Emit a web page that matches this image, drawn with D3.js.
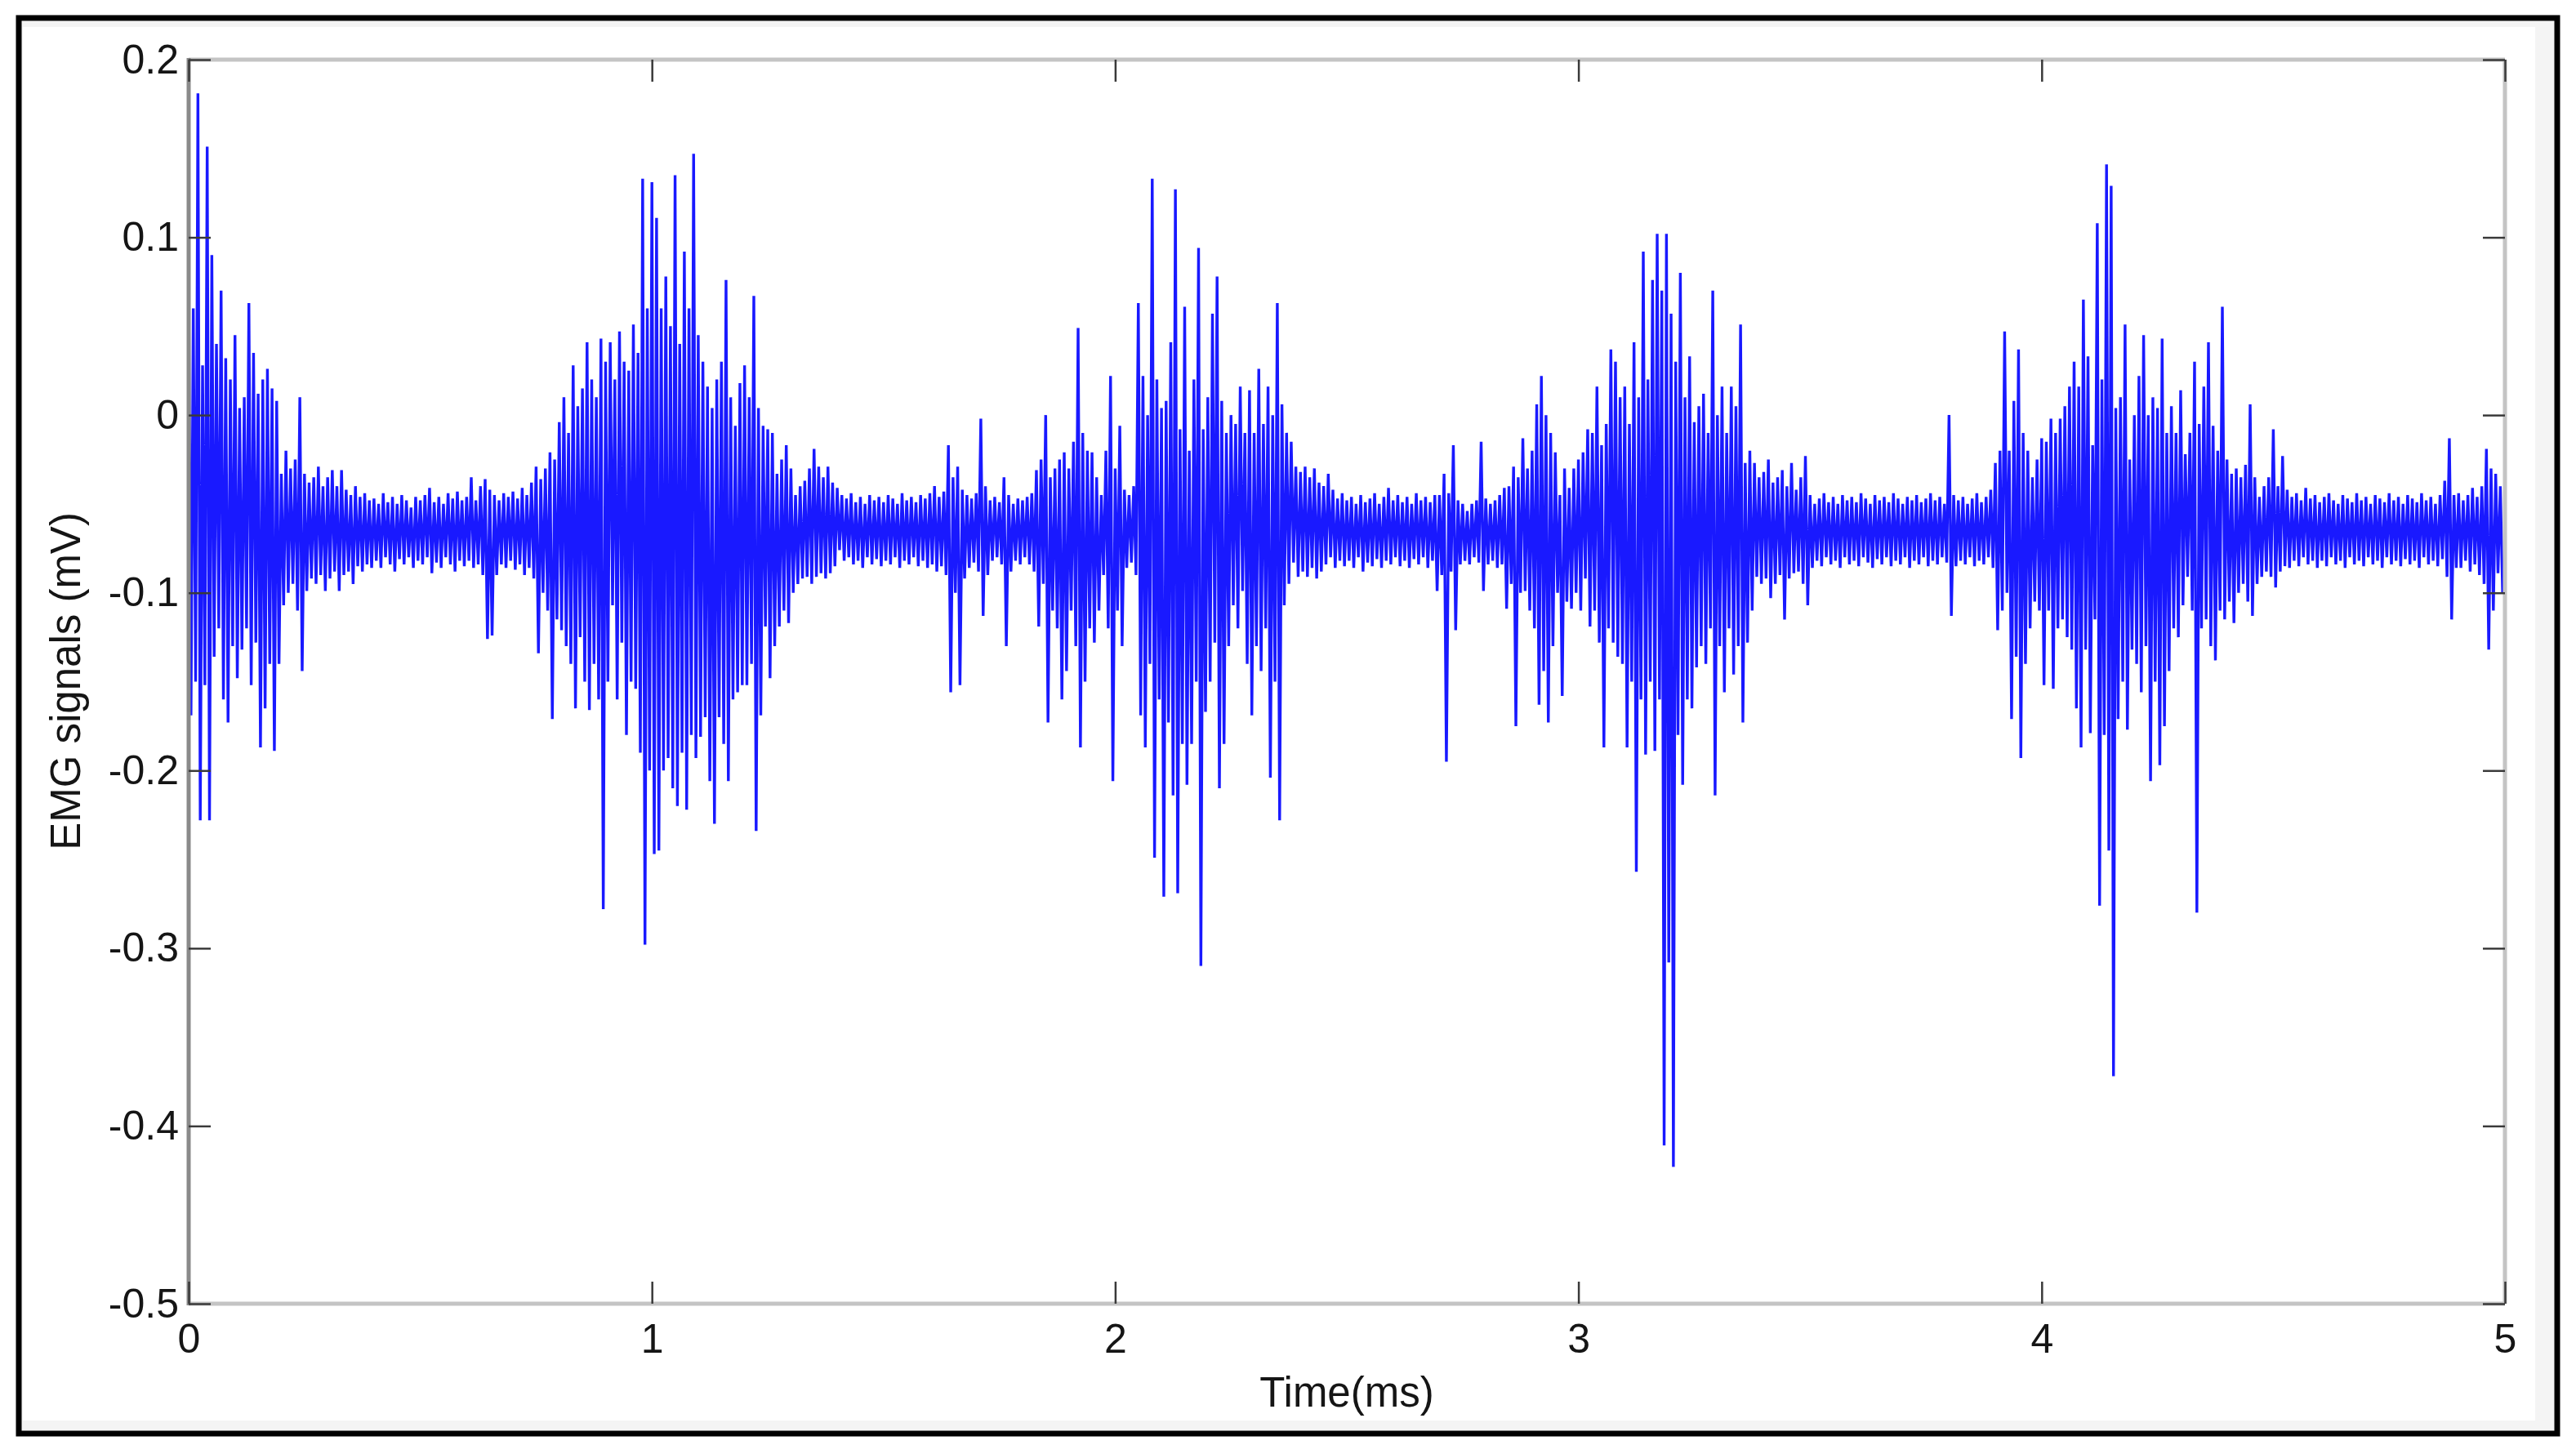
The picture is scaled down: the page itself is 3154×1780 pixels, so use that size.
<!DOCTYPE html>
<html>
<head>
<meta charset="utf-8">
<script src="https://cdn.jsdelivr.net/npm/d3@7"></script>
<style>
  html, body { margin: 0; padding: 0; background: #fff; }
  svg { display: block; }
  .tick text { font-family: "Liberation Sans", Arial, sans-serif; fill: #151515; }
</style>
</head>
<body>
<div id="chart"></div>
<script>
// EMG trace, one bin every 0.01 ms: upper and lower swing of the signal in each bin (µV)
var binStep = 0.01;
var binHi = [
  74, 60, 181, 28, 151, 90, 40, 70, 32, 20,
  45, 4, 10, 63, 35, 12, 20, 26, 15, 8,
  -33, -20, -30, -25, 10, -33, -38, -35, -29, -40,
  -35, -31, -40, -31, -42, -45, -40, -46, -44, -48,
  -47, -50, -44, -49, -46, -50, -45, -48, -52, -46,
  -48, -45, -41, -49, -46, -50, -44, -47, -43, -48,
  -46, -35, -48, -40, -36, -42, -45, -48, -44, -46,
  -43, -47, -41, -45, -38, -29, -36, -30, -21, -25,
  -4, 10, -10, 28, 5, 15, 41, 20, 10, 43,
  30, 41, 20, 47, 30, 25, 51, 35, 133, 60,
  131, 111, 60, 78, 50, 135, 40, 92, 60, 147,
  45, 30, 16, 4, 20, 30, 76, 10, -6, 18,
  28, 10, 67, 4, -6, -8, -10, -33, -25, -17,
  -30, -45, -40, -37, -30, -19, -29, -35, -29, -38,
  -41, -45, -47, -44, -49, -46, -50, -45, -48, -46,
  -49, -45, -47, -50, -44, -48, -46, -49, -45, -47,
  -44, -40, -46, -43, -17, -35, -29, -42, -45, -47,
  -44, -2, -40, -48, -46, -49, -35, -45, -50, -47,
  -48, -46, -44, -31, -25, 0, -35, -30, -25, -21,
  -30, -15, 49, -10, -20, -21, -35, -45, -20, 22,
  -30, -6, -42, -45, -40, 63, 22, 0, 133, 20,
  4, 8, 41, 127, -8, 61, -20, 20, 94, -8,
  10, 57, 78, 8, -10, 0, -5, 16, -10, 14,
  -10, 26, -5, 16, 0, 63, 6, -10, -15, -29,
  -32, -29, -35, -30, -38, -40, -33, -42, -47, -44,
  -48, -46, -50, -45, -49, -47, -44, -50, -46, -41,
  -48, -45, -49, -46, -50, -44, -48, -46, -49, -45,
  -45, -33, -44, -17, -48, -50, -54, -50, -48, -15,
  -47, -50, -48, -45, -41, -40, -29, -35, -13, -30,
  -20, 6, 22, 0, -10, -21, -45, -30, -41, -30,
  -25, -21, -8, -10, 16, -17, -5, 37, 30, 10,
  16, -5, 41, 10, 92, 20, 76, 102, 70, 102,
  57, 30, 80, 10, 33, -4, 5, 12, -10, 70,
  0, 16, -10, 16, 5, 51, -27, -20, -27, -35,
  -32, -25, -38, -35, -31, -40, -27, -42, -35, -23,
  -45, -50, -47, -44, -49, -46, -50, -45, -48, -46,
  -49, -44, -47, -50, -45, -48, -46, -49, -44, -47,
  -50, -46, -48, -45, -49, -47, -44, -48, -46, -50,
  0, -45, -48, -46, -50, -47, -44, -49, -46, -42,
  -27, -20, 47, -20, 8, 37, -10, -20, -35, -25,
  -13, -15, -2, -10, -2, 5, 16, 30, 16, 65,
  33, -17, 108, 20, 141, 129, 4, 10, 51, -25,
  0, 22, 45, 0, 10, 4, 43, -10, 5, -10,
  14, -22, -10, 30, -5, 16, 41, -6, -20, 61,
  -25, -33, -30, -35, -28, 6, -35, -46, -40, -35,
  -8, -40, -23, -42, -46, -44, -48, -41, -47, -45,
  -49, -46, -44, -48, -50, -45, -47, -49, -44, -48,
  -46, -50, -45, -47, -49, -44, -48, -46, -50, -45,
  -47, -49, -44, -48, -46, -50, -45, -37, -13, -45,
  -44, -48, -45, -41, -46, -40, -19, -30, -33, -40
];
var binLo = [
  -169, -150, -228, -152, -228, -136, -120, -160, -173, -130,
  -148, -132, -120, -152, -128, -187, -165, -140, -189, -140,
  -107, -100, -95, -110, -144, -99, -92, -95, -90, -99,
  -92, -88, -99, -90, -88, -95, -85, -88, -84, -86,
  -82, -86, -80, -84, -88, -81, -84, -80, -86, -82,
  -84, -80, -89, -83, -86, -80, -84, -88, -82, -85,
  -82, -86, -84, -90, -126, -124, -90, -84, -86, -82,
  -87, -84, -90, -86, -92, -134, -100, -110, -171, -115,
  -121, -130, -140, -165, -125, -150, -166, -140, -160, -278,
  -150, -107, -160, -128, -180, -150, -154, -190, -298, -200,
  -247, -245, -200, -193, -210, -220, -190, -222, -180, -193,
  -181, -170, -206, -230, -170, -185, -206, -160, -156, -152,
  -152, -140, -234, -169, -119, -148, -130, -119, -110, -117,
  -100, -95, -92, -91, -95, -91, -89, -92, -89, -85,
  -76, -82, -80, -84, -82, -86, -80, -84, -81, -85,
  -82, -84, -80, -86, -82, -84, -80, -85, -82, -86,
  -84, -88, -85, -90, -156, -100, -152, -92, -86, -83,
  -88, -113, -90, -82, -80, -84, -130, -88, -82, -84,
  -80, -84, -88, -119, -95, -173, -110, -120, -160, -144,
  -110, -130, -187, -150, -120, -128, -110, -90, -120, -206,
  -110, -130, -86, -83, -90, -169, -187, -140, -249, -160,
  -271, -173, -214, -269, -185, -208, -185, -150, -310, -167,
  -150, -128, -210, -185, -130, -107, -120, -99, -140, -169,
  -130, -144, -120, -204, -150, -228, -107, -95, -83, -91,
  -88, -91, -86, -92, -88, -84, -80, -86, -82, -85,
  -82, -86, -80, -88, -83, -85, -81, -86, -82, -84,
  -80, -85, -82, -86, -81, -84, -80, -86, -82, -99,
  -90, -195, -88, -121, -84, -82, -84, -80, -83, -99,
  -84, -82, -86, -84, -109, -95, -175, -100, -99, -110,
  -120, -163, -144, -173, -130, -100, -158, -105, -109, -100,
  -110, -92, -119, -110, -128, -187, -120, -128, -136, -140,
  -187, -150, -257, -160, -191, -150, -189, -160, -411, -308,
  -423, -180, -208, -160, -165, -142, -130, -140, -120, -214,
  -130, -156, -120, -146, -130, -173, -128, -110, -91, -95,
  -92, -103, -95, -90, -115, -92, -89, -88, -95, -107,
  -86, -82, -85, -80, -84, -82, -86, -80, -84, -82,
  -85, -80, -83, -86, -81, -84, -80, -85, -82, -84,
  -80, -86, -82, -84, -80, -85, -82, -84, -80, -83,
  -113, -85, -82, -84, -80, -85, -82, -84, -80, -86,
  -121, -110, -100, -171, -136, -193, -140, -120, -105, -110,
  -152, -110, -154, -120, -115, -125, -132, -165, -187, -132,
  -179, -115, -276, -180, -245, -372, -171, -150, -177, -132,
  -140, -156, -130, -206, -150, -197, -175, -144, -120, -125,
  -107, -91, -110, -280, -120, -115, -130, -138, -110, -115,
  -105, -117, -100, -95, -105, -113, -95, -91, -88, -91,
  -97, -88, -85, -86, -82, -85, -80, -84, -82, -86,
  -82, -85, -80, -84, -82, -86, -80, -84, -82, -85,
  -80, -84, -82, -86, -80, -84, -82, -85, -81, -84,
  -82, -86, -80, -84, -82, -85, -81, -91, -115, -86,
  -86, -82, -88, -84, -90, -95, -132, -110, -89, -100
];

var xTicks = [0, 1, 2, 3, 4, 5];
var xTickLabels = ["0", "1", "2", "3", "4", "5"];
var yTicks = [0.2, 0.1, 0, -0.1, -0.2, -0.3, -0.4, -0.5];
var yTickLabels = ["0.2", "0.1", "0", "-0.1", "-0.2", "-0.3", "-0.4", "-0.5"];

var width = 3154,
    height = 1780;
var plotLeft = 231, plotRight = 3067, plotTop = 73, plotBottom = 1596;

var svg = d3.select("#chart").append("svg")
    .attr("width", width)
    .attr("height", height);

// figure frame
svg.append("rect")
    .attr("x", 23).attr("y", 22)
    .attr("width", 3108).attr("height", 1733)
    .attr("fill", "#f4f4f4")
    .attr("stroke", "#000")
    .attr("stroke-width", 7);
svg.append("rect")
    .attr("x", 28).attr("y", 33)
    .attr("width", 3076).attr("height", 1706)
    .attr("fill", "#fff");

var x = d3.scaleLinear().domain([0, 5]).range([plotLeft, plotRight]);
var y = d3.scaleLinear().domain([-0.5, 0.2]).range([plotBottom, plotTop]);

// samples: upper swing then lower swing inside every bin
var points = [];
binHi.forEach(function(h, i) {
  points.push([i * binStep, h / 1000]);
  points.push([i * binStep + binStep / 2, binLo[i] / 1000]);
});

var line = d3.line()
    .x(function(d) { return x(d[0]); })
    .y(function(d) { return y(d[1]); });

svg.append("path")
    .datum(points)
    .attr("d", line)
    .attr("fill", "none")
    .attr("stroke", "#0000ff")
    .attr("stroke-opacity", 0.9)
    .attr("stroke-width", 3.4)
    .attr("stroke-linejoin", "bevel");

// axis box
svg.append("line")
    .attr("x1", plotLeft).attr("x2", plotRight).attr("y1", plotTop).attr("y2", plotTop)
    .attr("stroke", "#c4c4c4").attr("stroke-width", 5);
svg.append("line")
    .attr("x1", plotLeft).attr("x2", plotRight).attr("y1", plotBottom).attr("y2", plotBottom)
    .attr("stroke", "#c4c4c4").attr("stroke-width", 5);
svg.append("line")
    .attr("x1", plotRight).attr("x2", plotRight).attr("y1", plotTop).attr("y2", plotBottom)
    .attr("stroke", "#c4c4c4").attr("stroke-width", 5);
svg.append("line")
    .attr("x1", plotLeft).attr("x2", plotLeft).attr("y1", plotTop - 2).attr("y2", plotBottom + 2)
    .attr("stroke", "#8a8a8a").attr("stroke-width", 5);

function styleAxis(g) {
  g.select(".domain").remove();
  g.selectAll(".tick line").attr("stroke", "#3a3a3a").attr("stroke-width", 2.5);
  g.selectAll(".tick text").style("font-size", "50px");
}

svg.append("g")
    .attr("transform", "translate(" + plotLeft + ",0)")
    .call(d3.axisLeft(y).tickValues(yTicks).tickSize(-27).tickPadding(12)
      .tickFormat(function(d, i) { return yTickLabels[i]; }))
    .call(styleAxis);

svg.append("g")
    .attr("transform", "translate(" + plotRight + ",0)")
    .call(d3.axisRight(y).tickValues(yTicks).tickSize(-27).tickFormat(""))
    .call(styleAxis);

svg.append("g")
    .attr("transform", "translate(0," + plotBottom + ")")
    .call(d3.axisBottom(x).tickValues(xTicks).tickSize(-27).tickPadding(24)
      .tickFormat(function(d, i) { return xTickLabels[i]; }))
    .call(styleAxis);

svg.append("g")
    .attr("transform", "translate(0," + plotTop + ")")
    .call(d3.axisTop(x).tickValues(xTicks).tickSize(-27).tickFormat(""))
    .call(styleAxis);

// axis titles
svg.append("text")
    .attr("x", (plotLeft + plotRight) / 2)
    .attr("y", 1722)
    .attr("text-anchor", "middle")
    .style("font-family", "Liberation Sans, Arial, sans-serif")
    .style("font-size", "51px")
    .attr("fill", "#151515")
    .text("Time(ms)");

svg.append("text")
    .attr("transform", "translate(98,834) rotate(-90)")
    .attr("text-anchor", "middle")
    .style("font-family", "Liberation Sans, Arial, sans-serif")
    .style("font-size", "51px")
    .attr("fill", "#151515")
    .text("EMG signals (mV)");
</script>
</body>
</html>
